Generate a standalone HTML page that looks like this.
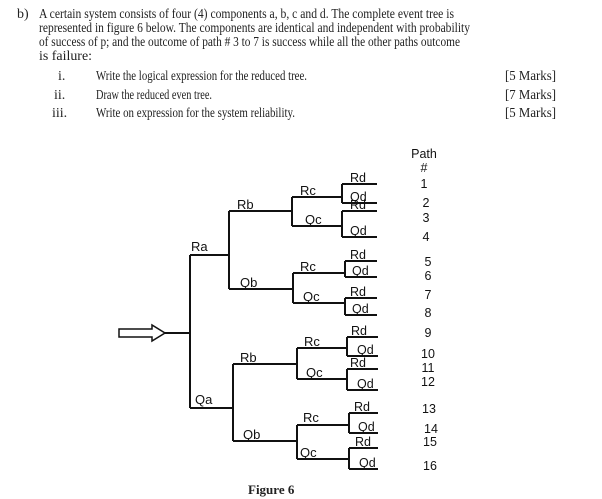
<!DOCTYPE html>
<html><head><style>body{margin:0;background:#fff}svg{display:block}</style></head><body>
<svg width="602" height="499" viewBox="0 0 602 499" xmlns="http://www.w3.org/2000/svg">
<g font-family="Liberation Serif, serif" font-size="14" fill="#222">
<text x="17" y="18">b)</text>
<text x="39" y="18" textLength="415" lengthAdjust="spacingAndGlyphs">A certain system consists of four (4) components a, b, c and d.  The complete event tree is</text>
<text x="39" y="32" textLength="431" lengthAdjust="spacingAndGlyphs">represented in figure 6 below. The components are identical and independent with probability</text>
<text x="39" y="46" textLength="421" lengthAdjust="spacingAndGlyphs">of success of p; and the outcome of path # 3 to 7 is success while all the other paths outcome</text>
<text x="39" y="60" textLength="53" lengthAdjust="spacingAndGlyphs">is failure:</text>
<text x="58" y="80">i.</text>
<text x="96" y="80" textLength="211" lengthAdjust="spacingAndGlyphs">Write the logical expression for the reduced tree.</text>
<text x="54" y="99">ii.</text>
<text x="96" y="99" textLength="116" lengthAdjust="spacingAndGlyphs">Draw the reduced even tree.</text>
<text x="52" y="117">iii.</text>
<text x="96" y="117" textLength="199" lengthAdjust="spacingAndGlyphs">Write on expression for the system reliability.</text>
<text x="505" y="80" textLength="51" lengthAdjust="spacingAndGlyphs">[5 Marks]</text>
<text x="505" y="99" textLength="51" lengthAdjust="spacingAndGlyphs">[7 Marks]</text>
<text x="505" y="117" textLength="51" lengthAdjust="spacingAndGlyphs">[5 Marks]</text>
<text x="248" y="494" font-weight="bold" font-size="13">Figure 6</text>
</g>
<g stroke="#111" stroke-width="2" fill="none">
<path d="M190 255V408M190 255H229M190 408H233"/>
<path d="M229 211V289M229 211H292M229 289H293"/>
<path d="M292 197V226M292 197H342M292 226H342"/>
<path d="M342 184V203M342 184H377M342 203H377M342 211V237M342 211H377M342 237H377"/>
<path d="M293 273V303M293 273H345M293 303H345"/>
<path d="M345 261V277M345 261H377M345 277H377M345 298V315M345 298H377M345 315H377"/>
<path d="M233 364V441M233 364H297M233 441H297"/>
<path d="M297 348V379M297 348H347M297 379H347"/>
<path d="M347 337V356M347 337H378M347 356H378M347 369V390M347 369H378M347 390H378"/>
<path d="M297 425V459M297 425H349M297 459H349"/>
<path d="M349 413V433M349 413H378M349 433H378M349 448V469M349 448H378M349 469H378"/>
<path d="M165 333H190"/>
</g>
<path d="M119 329H152V325L165 333L152 341V337H119Z" fill="#fff" stroke="#111" stroke-width="1.5"/>
<g font-family="Liberation Sans, sans-serif" font-size="13" fill="#111">
<text x="191" y="251">Ra</text><text x="195" y="404">Qa</text>
<text x="237" y="209">Rb</text><text x="240" y="287">Qb</text>
<text x="240" y="362">Rb</text><text x="243" y="439">Qb</text>
<text x="300" y="195">Rc</text><text x="305" y="224">Qc</text>
<text x="300" y="271">Rc</text><text x="303" y="301">Qc</text>
<text x="304" y="346">Rc</text><text x="306" y="377">Qc</text>
<text x="303" y="422">Rc</text><text x="300" y="457">Qc</text>
<g font-size="12.5">
<text x="350" y="182">Rd</text><text x="350" y="201">Qd</text><text x="350" y="209">Rd</text><text x="350" y="235">Qd</text>
<text x="350" y="259">Rd</text><text x="352" y="275">Qd</text><text x="350" y="296">Rd</text><text x="352" y="313">Qd</text>
<text x="351" y="335">Rd</text><text x="357" y="354">Qd</text><text x="350" y="367">Rd</text><text x="357" y="388">Qd</text>
<text x="354" y="411">Rd</text><text x="358" y="431">Qd</text><text x="355" y="446">Rd</text><text x="359" y="467">Qd</text>
</g>
<g font-size="12.5" text-anchor="middle">
<text x="424" y="158">Path</text><text x="424" y="172">#</text>
<text x="424" y="188">1</text><text x="426" y="207">2</text><text x="426" y="222">3</text><text x="426" y="241">4</text>
<text x="428" y="266">5</text><text x="428" y="280">6</text><text x="428" y="299">7</text><text x="428" y="317">8</text>
<text x="428" y="337">9</text><text x="428" y="358">10</text><text x="428" y="372">11</text><text x="428" y="386">12</text>
<text x="429" y="413">13</text><text x="431" y="433">14</text><text x="430" y="446">15</text><text x="430" y="470">16</text>
</g>
</g>
</svg>
</body></html>
